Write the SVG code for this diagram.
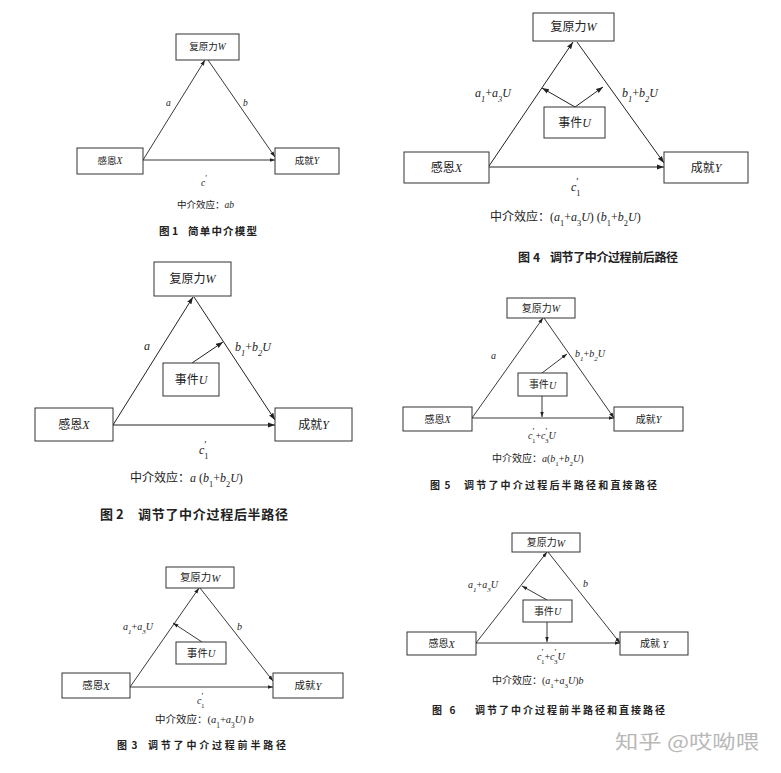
<svg xmlns="http://www.w3.org/2000/svg" width="781" height="773" viewBox="0 0 781 773">
<style>
.bg{fill:#fff}
.box{fill:#fff;stroke:#333;stroke-width:1}
.e{stroke:#222;stroke-width:1;fill:none;marker-end:url(#ah)}
.es{stroke:#222;stroke-width:0.9;fill:none;marker-end:url(#ahs)}
.t{font-family:"Liberation Serif","Noto Sans CJK SC",serif;fill:#222}
.c{text-anchor:middle;dominant-baseline:central}
.i{font-style:italic}
.title{font-family:"Noto Sans CJK SC",sans-serif;font-weight:bold;fill:#222}
.wm{font-family:"Noto Sans CJK SC",sans-serif;fill:#b8b8b8}
</style>
<defs>
<marker id="ah" viewBox="0 0 10 10" refX="10" refY="5" markerWidth="7" markerHeight="7" orient="auto" markerUnits="userSpaceOnUse"><path d="M0,1.5 L10,5 L0,8.5 z" fill="#222"/></marker>
<marker id="ahs" viewBox="0 0 10 10" refX="10" refY="5" markerWidth="5.5" markerHeight="5.5" orient="auto" markerUnits="userSpaceOnUse"><path d="M0,1.5 L10,5 L0,8.5 z" fill="#222"/></marker>
</defs>
<rect class="bg" x="0" y="0" width="781" height="773"/>

<!-- Figure 1 -->
<g id="fig1">
<g id="f1-connectors">
<path class="es" d="M143,160 L205,60"/>
<path class="es" d="M208,60 L275,157"/>
<path class="es" d="M143,160 L275,160"/>
</g>
<g id="f1-W"><rect class="box" x="176" y="34" width="63" height="26"/><text class="t c" x="207.5" y="47" font-size="9.5">复原力<tspan class="i">W</tspan></text></g>
<g id="f1-X"><rect class="box" x="77" y="148" width="66" height="26"/><text class="t c" x="110" y="161" font-size="9.5">感恩<tspan class="i">X</tspan></text></g>
<g id="f1-Y"><rect class="box" x="275" y="148" width="64" height="26"/><text class="t c" x="307" y="161" font-size="9.5">成就<tspan class="i">Y</tspan></text></g>
<text class="t i" x="166" y="106" font-size="9.5">a</text>
<text class="t i" x="243" y="106" font-size="9.5">b</text>
<text class="t i" x="201" y="186" font-size="9.5">c<tspan font-size="90%" baseline-shift="super" font-style="normal">′</tspan></text>
<text class="t" x="177" y="208" font-size="9.5">中介效应：<tspan class="i">ab</tspan></text>
<text class="title" x="159" y="235" font-size="10.5">图<tspan x="172">1</tspan></text>
<text class="title" x="188" y="235" font-size="10.5" textLength="69" lengthAdjust="spacing">简单中介模型</text>
</g>

<!-- Figure 4 -->
<g id="fig4">
<g id="f4-connectors">
<path class="e" d="M489,166 L573,42"/>
<path class="e" d="M577,42 L664,163"/>
<path class="e" d="M489,167 L664,167"/>
<path class="e" d="M575,107 L542,88"/>
<path class="e" d="M575,107 L603,87"/>
</g>
<g id="f4-W"><rect class="box" x="533" y="13" width="81" height="28"/><text class="t c" x="573.5" y="27" font-size="12">复原力<tspan class="i">W</tspan></text></g>
<g id="f4-X"><rect class="box" x="404" y="152" width="85" height="31"/><text class="t c" x="446.5" y="167.5" font-size="12">感恩<tspan class="i">X</tspan></text></g>
<g id="f4-Y"><rect class="box" x="664" y="152" width="84" height="31"/><text class="t c" x="706" y="167.5" font-size="12">成就<tspan class="i">Y</tspan></text></g>
<g id="f4-U"><rect class="box" x="544" y="107" width="61" height="31"/><text class="t c" x="574.5" y="122.5" font-size="12">事件<tspan class="i">U</tspan></text></g>
<text class="t i" x="475" y="97" font-size="12">a<tspan font-size="70%" baseline-shift="sub">1</tspan><tspan font-style="normal">+</tspan>a<tspan font-size="70%" baseline-shift="sub">3</tspan>U</text>
<text class="t i" x="622" y="97" font-size="12">b<tspan font-size="70%" baseline-shift="sub">1</tspan><tspan font-style="normal">+</tspan>b<tspan font-size="70%" baseline-shift="sub">2</tspan>U</text>
<text class="t i" x="571" y="191" font-size="12">c<tspan font-size="90%" baseline-shift="super" font-style="normal">′</tspan><tspan font-size="70%" baseline-shift="sub" dx="-2.5" font-style="normal">1</tspan></text>
<text class="t" x="490" y="221" font-size="12">中介效应：(<tspan class="i">a</tspan><tspan font-size="70%" baseline-shift="sub">1</tspan>+<tspan class="i">a</tspan><tspan font-size="70%" baseline-shift="sub">3</tspan><tspan class="i">U</tspan>) (<tspan class="i">b</tspan><tspan font-size="70%" baseline-shift="sub">1</tspan>+<tspan class="i">b</tspan><tspan font-size="70%" baseline-shift="sub">2</tspan><tspan class="i">U</tspan>)</text>
<text class="title" x="518" y="262" font-size="12">图<tspan x="533">4</tspan></text>
<text class="title" x="550" y="262" font-size="12" textLength="128" lengthAdjust="spacing">调节了中介过程前后路径</text>
</g>

<!-- Figure 2 -->
<g id="fig2">
<g id="f2-connectors">
<path class="e" d="M113,425 L193,297"/>
<path class="e" d="M194,297 L275,420"/>
<path class="e" d="M113,425 L275,425"/>
<path class="e" d="M192,363 L223,342"/>
</g>
<g id="f2-W"><rect class="box" x="154" y="262" width="77" height="34"/><text class="t c" x="192.5" y="279" font-size="12">复原力<tspan class="i">W</tspan></text></g>
<g id="f2-X"><rect class="box" x="35" y="408" width="78" height="33"/><text class="t c" x="74" y="424.5" font-size="12">感恩<tspan class="i">X</tspan></text></g>
<g id="f2-Y"><rect class="box" x="275" y="408" width="77" height="33"/><text class="t c" x="313.5" y="424.5" font-size="12">成就<tspan class="i">Y</tspan></text></g>
<g id="f2-U"><rect class="box" x="163" y="363" width="56" height="33"/><text class="t c" x="191" y="379.5" font-size="12">事件<tspan class="i">U</tspan></text></g>
<text class="t i" x="144" y="350" font-size="12">a</text>
<text class="t i" x="235" y="351" font-size="12">b<tspan font-size="70%" baseline-shift="sub">1</tspan><tspan font-style="normal">+</tspan>b<tspan font-size="70%" baseline-shift="sub">2</tspan>U</text>
<text class="t i" x="199" y="454" font-size="12">c<tspan font-size="90%" baseline-shift="super" font-style="normal">′</tspan><tspan font-size="70%" baseline-shift="sub" dx="-2.5" font-style="normal">1</tspan></text>
<text class="t" x="130" y="482" font-size="12">中介效应：<tspan class="i">a</tspan> (<tspan class="i">b</tspan><tspan font-size="70%" baseline-shift="sub">1</tspan>+<tspan class="i">b</tspan><tspan font-size="70%" baseline-shift="sub">2</tspan><tspan class="i">U</tspan>)</text>
<text class="title" x="100" y="519" font-size="13">图<tspan x="116">2</tspan></text>
<text class="title" x="138" y="519" font-size="13" textLength="150" lengthAdjust="spacing">调节了中介过程后半路径</text>
</g>

<!-- Figure 5 -->
<g id="fig5">
<g id="f5-connectors">
<path class="es" d="M472,418 L543,318"/>
<path class="es" d="M544,318 L614,418"/>
<path class="es" d="M472,418 L614,418"/>
<path class="es" d="M542,373 L567,354"/>
<path class="es" d="M542,396 L542,417"/>
</g>
<g id="f5-W"><rect class="box" x="507" y="298" width="68" height="20"/><text class="t c" x="541" y="308" font-size="10">复原力<tspan class="i">W</tspan></text></g>
<g id="f5-X"><rect class="box" x="403" y="407" width="69" height="24"/><text class="t c" x="437.5" y="419" font-size="10">感恩<tspan class="i">X</tspan></text></g>
<g id="f5-Y"><rect class="box" x="614" y="407" width="69" height="24"/><text class="t c" x="648.5" y="419" font-size="10">成就<tspan class="i">Y</tspan></text></g>
<g id="f5-U"><rect class="box" x="518" y="373" width="49" height="23"/><text class="t c" x="542.5" y="384.5" font-size="10">事件<tspan class="i">U</tspan></text></g>
<text class="t i" x="491" y="359" font-size="10">a</text>
<text class="t i" x="575" y="357" font-size="10">b<tspan font-size="70%" baseline-shift="sub">1</tspan><tspan font-style="normal">+</tspan>b<tspan font-size="70%" baseline-shift="sub">2</tspan>U</text>
<text class="t i" x="528" y="439" font-size="10">c<tspan font-size="90%" baseline-shift="super" font-style="normal">′</tspan><tspan font-size="70%" baseline-shift="sub" dx="-2.5" font-style="normal">1</tspan><tspan font-style="normal">+</tspan>c<tspan font-size="90%" baseline-shift="super" font-style="normal">′</tspan><tspan font-size="70%" baseline-shift="sub" dx="-2.5" font-style="normal">3</tspan>U</text>
<text class="t" x="492" y="462" font-size="10">中介效应：<tspan class="i">a</tspan>(<tspan class="i">b</tspan><tspan font-size="70%" baseline-shift="sub">1</tspan>+<tspan class="i">b</tspan><tspan font-size="70%" baseline-shift="sub">2</tspan><tspan class="i">U</tspan>)</text>
<text class="title" x="430" y="489" font-size="10">图<tspan x="444.5">5</tspan></text>
<text class="title" x="464" y="489" font-size="10" textLength="193" lengthAdjust="spacing">调节了中介过程后半路径和直接路径</text>
</g>

<!-- Figure 3 -->
<g id="fig3">
<g id="f3-connectors">
<path class="es" d="M130,687 L199,588"/>
<path class="es" d="M200,588 L273,681"/>
<path class="es" d="M130,687 L273,687"/>
<path class="es" d="M202,642 L173,623"/>
</g>
<g id="f3-W"><rect class="box" x="166" y="567" width="68" height="21"/><text class="t c" x="200" y="577.5" font-size="10.5">复原力<tspan class="i">W</tspan></text></g>
<g id="f3-X"><rect class="box" x="62" y="673" width="68" height="25"/><text class="t c" x="96" y="685.5" font-size="10.5">感恩<tspan class="i">X</tspan></text></g>
<g id="f3-Y"><rect class="box" x="273" y="673" width="70" height="25"/><text class="t c" x="308" y="685.5" font-size="10.5">成就<tspan class="i">Y</tspan></text></g>
<g id="f3-U"><rect class="box" x="176" y="642" width="50" height="22"/><text class="t c" x="201" y="653" font-size="10.5">事件<tspan class="i">U</tspan></text></g>
<text class="t i" x="123" y="630" font-size="10">a<tspan font-size="70%" baseline-shift="sub">1</tspan><tspan font-style="normal">+</tspan>a<tspan font-size="70%" baseline-shift="sub">3</tspan>U</text>
<text class="t i" x="237" y="630" font-size="10">b</text>
<text class="t i" x="197" y="704" font-size="10">c<tspan font-size="90%" baseline-shift="super" font-style="normal">′</tspan><tspan font-size="70%" baseline-shift="sub" dx="-2.5" font-style="normal">1</tspan></text>
<text class="t" x="155" y="723" font-size="10.5">中介效应：(<tspan class="i">a</tspan><tspan font-size="70%" baseline-shift="sub">1</tspan>+<tspan class="i">a</tspan><tspan font-size="70%" baseline-shift="sub">3</tspan><tspan class="i">U</tspan>) <tspan class="i">b</tspan></text>
<text class="title" x="117" y="749" font-size="10">图<tspan x="131.5">3</tspan></text>
<text class="title" x="148" y="749" font-size="10" textLength="138" lengthAdjust="spacing">调节了中介过程前半路径</text>
</g>

<!-- Figure 6 -->
<g id="fig6">
<g id="f6-connectors">
<path class="es" d="M476,643 L547,552"/>
<path class="es" d="M548,552 L620,643"/>
<path class="es" d="M476,643 L620,643"/>
<path class="es" d="M547,600 L522,586"/>
<path class="es" d="M547,622 L547,642"/>
</g>
<g id="f6-W"><rect class="box" x="512" y="533" width="68" height="19"/><text class="t c" x="546" y="542.5" font-size="10">复原力<tspan class="i">W</tspan></text></g>
<g id="f6-X"><rect class="box" x="407" y="632" width="69" height="23"/><text class="t c" x="441.5" y="643.5" font-size="10">感恩<tspan class="i">X</tspan></text></g>
<g id="f6-Y"><rect class="box" x="620" y="632" width="68" height="23"/><text class="t c" x="654" y="643.5" font-size="10">成就 <tspan class="i">Y</tspan></text></g>
<g id="f6-U"><rect class="box" x="523" y="600" width="49" height="22"/><text class="t c" x="547.5" y="611" font-size="10">事件<tspan class="i">U</tspan></text></g>
<text class="t i" x="468" y="588" font-size="10">a<tspan font-size="70%" baseline-shift="sub">1</tspan><tspan font-style="normal">+</tspan>a<tspan font-size="70%" baseline-shift="sub">3</tspan>U</text>
<text class="t i" x="583" y="587" font-size="10">b</text>
<text class="t i" x="537" y="660" font-size="10">c<tspan font-size="90%" baseline-shift="super" font-style="normal">′</tspan><tspan font-size="70%" baseline-shift="sub" dx="-2.5" font-style="normal">1</tspan><tspan font-style="normal">+</tspan>c<tspan font-size="90%" baseline-shift="super" font-style="normal">′</tspan><tspan font-size="70%" baseline-shift="sub" dx="-2.5" font-style="normal">3</tspan>U</text>
<text class="t" x="492" y="684" font-size="10">中介效应：(<tspan class="i">a</tspan><tspan font-size="70%" baseline-shift="sub">1</tspan>+<tspan class="i">a</tspan><tspan font-size="70%" baseline-shift="sub">3</tspan><tspan class="i">U</tspan>)<tspan class="i">b</tspan></text>
<text class="title" x="432" y="714" font-size="10">图<tspan x="449.5">6</tspan></text>
<text class="title" x="475" y="714" font-size="10" textLength="190" lengthAdjust="spacing">调节了中介过程前半路径和直接路径</text>
</g>

<text class="wm" x="615" y="749" font-size="19" textLength="144" lengthAdjust="spacingAndGlyphs">知乎 @哎呦喂</text>
</svg>
